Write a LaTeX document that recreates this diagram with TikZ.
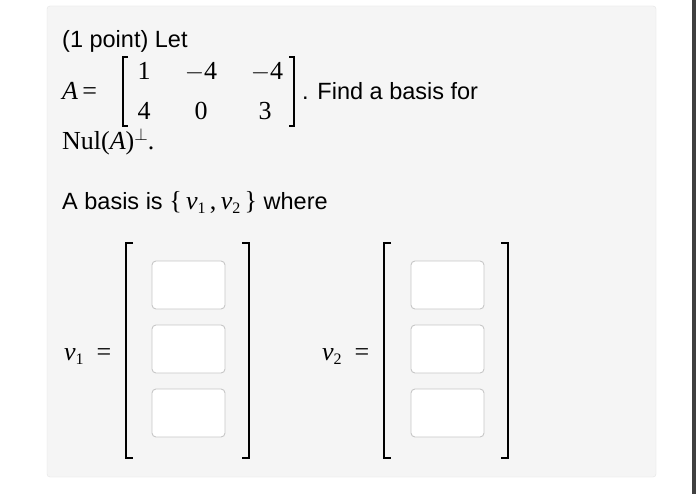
\documentclass[tikz,border=0pt]{standalone}
\usepackage{fontspec}
\setmainfont{Liberation Sans}
\newfontfamily\mathser{Liberation Serif}
\newcommand{\mvar}[2]{{\mathser\itshape #1}\raisebox{-4pt}{\mathser\fontsize{16}{18}\selectfont #2}}
\begin{document}
\begin{tikzpicture}[x=1pt,y=-1pt,
  txt/.style={anchor=base west,inner sep=0,font=\fontsize{23.5}{27}\selectfont},
  ms/.style={inner sep=0,font=\mathser\fontsize{26}{30}\selectfont},
  brk/.style={line width=1.4pt},
  cell/.style={draw=black!22,fill=white,rounded corners=4pt,line width=0.9pt}]
\useasboundingbox (0,0) rectangle (700,494);
\fill[white] (0,0) rectangle (700,494);
\draw[black!10,fill=black!4,rounded corners=3pt] (47,6) rectangle (656,477);
\fill[black!75] (692,0) rectangle (696,494);
\node[txt] (t1) at (62,48) {(1 point) Let};
\node[ms,anchor=base west] (A) at (62,100) {\itshape A\upshape\,=};
\draw[brk] (128,57) -- (123,57) -- (123,126) -- (128,126);
\draw[brk] (289,57) -- (294,57) -- (294,126) -- (289,126);
\node[ms,anchor=base] (a11) at (144,80) {1};
\node[ms,anchor=base] (a12) at (201,80) {$-$4};
\node[ms,anchor=base] (a13) at (267,80) {$-$4};
\node[ms,anchor=base] (a21) at (144,120) {4};
\node[ms,anchor=base] (a22) at (201,120) {0};
\node[ms,anchor=base] (a23) at (265,120) {3};
\node[txt] (f) at (302,100) {. Find a basis for};
\node[ms,anchor=base west] (nul) at (62,150) {Nul(\itshape A\upshape)\raisebox{9pt}{\fontsize{16}{18}\selectfont$\perp$}.};
\node[txt] (b) at (62,209) {A basis is {\mathser\fontsize{26}{28}\selectfont\{\,\mvar{v}{1}\,,\,\mvar{v}{2}\,\}} where};
% v1
\node[ms,anchor=base west] (v1) at (64,360) {\mvar{v}{1}\ \ =};
\draw[brk] (133,243) -- (126,243) -- (126,458) -- (133,458);
\draw[brk] (242,243) -- (249,243) -- (249,458) -- (242,458);
\foreach \y in {261,325,389}{\draw[cell] (152,\y) rectangle (225,\y+48);}
% v2
\node[ms,anchor=base west] (v2) at (322,360) {\mvar{v}{2}\ \ =};
\draw[brk] (391,243) -- (384,243) -- (384,458) -- (391,458);
\draw[brk] (501,243) -- (508,243) -- (508,458) -- (501,458);
\foreach \y in {261,325,389}{\draw[cell] (411,\y) rectangle (484,\y+48);}
\end{tikzpicture}
\end{document}
